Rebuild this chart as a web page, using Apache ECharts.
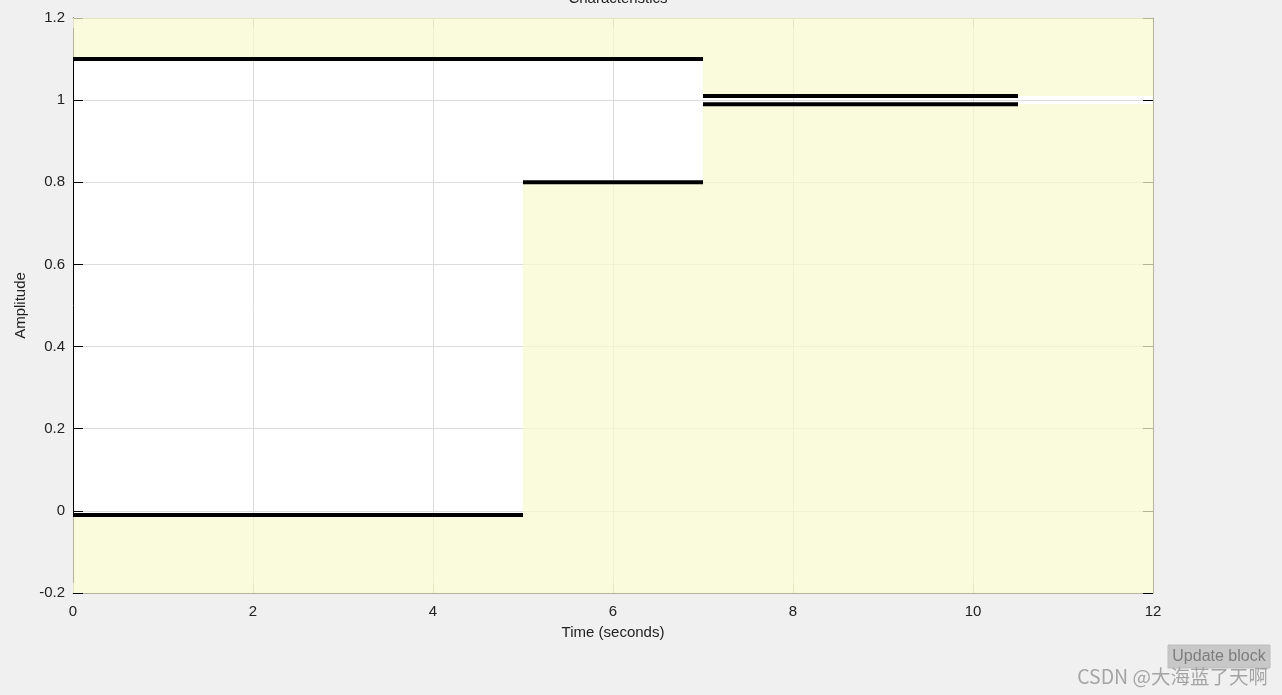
<!DOCTYPE html>
<html>
<head>
<meta charset="utf-8">
<script src="https://cdn.jsdelivr.net/npm/echarts@6/dist/echarts.min.js"></script>
<style>
html,body{margin:0;padding:0;background:#f0f0f0;}
#c{width:1282px;height:695px;}
</style>
</head>
<body>
<div id="c"></div>
<script>
// Step-response characteristic bounds
const segX = [0, 5, 7, 10.5, 12];
const lowerBound = [-0.01, 0.8, 0.99, 0.99];
const upperBound = [1.1, 1.1, 1.01, 1.01];
const boundLineShown = [true, true, true, false];
const xRange = [0, 12];
const yRange = [-0.2, 1.2];

const FONT = '"Liberation Sans", Arial, Helvetica, sans-serif';
const yellow = 'rgba(248,248,206,0.72)';
const dimEdge = '#b3b39a';

const areaData = [];
for (let i = 0; i < segX.length - 1; i++) {
  areaData.push([{xAxis: segX[i], yAxis: upperBound[i]}, {xAxis: segX[i + 1], yAxis: yRange[1]}]);
  areaData.push([{xAxis: segX[i], yAxis: yRange[0]}, {xAxis: segX[i + 1], yAxis: lowerBound[i]}]);
}

const series = [{
  type: 'line', data: [], silent: true, z: 10,
  markArea: {silent: true, z: 10, itemStyle: {color: yellow, borderWidth: 0}, data: areaData}
}];
for (let i = 0; i < segX.length - 1; i++) {
  if (!boundLineShown[i]) continue;
  [lowerBound[i], upperBound[i]].forEach(v => {
    series.push({
      type: 'line', z: 20, silent: true, symbol: 'none', animation: false,
      lineStyle: {color: '#000', width: 4, cap: 'butt'},
      data: [[segX[i], v], [segX[i + 1], v]]
    });
  });
}

const tickStyle = {show: true, inside: true, length: 10, lineStyle: {color: '#000', width: 1}};
const dimTick = {show: true, inside: true, length: 10, lineStyle: {color: dimEdge, width: 1}};
const chart = echarts.init(document.getElementById('c'));
chart.setOption({
  animation: false,
  backgroundColor: '#f0f0f0',
  title: {
    text: 'Characteristics', left: 613, top: -14, textAlign: 'center',
    textStyle: {fontFamily: FONT, fontSize: 15, fontWeight: 'normal', color: '#222'}
  },
  grid: {left: 73, right: 129, top: 18, bottom: 102, show: true, backgroundColor: '#fff', borderWidth: 0},
  xAxis: [{
    type: 'value', min: xRange[0], max: xRange[1], interval: 2, position: 'bottom', z: 0,
    name: 'Time (seconds)', nameLocation: 'middle', nameGap: 32,
    nameTextStyle: {fontFamily: FONT, fontSize: 15, color: '#222'},
    axisLine: {show: true, onZero: false, lineStyle: {color: dimEdge, width: 1}},
    axisTick: dimTick,
    axisLabel: {fontFamily: FONT, fontSize: 15, color: '#222', margin: 11},
    splitLine: {show: true, lineStyle: {color: '#dcdcdc', width: 1}}
  }, {
    type: 'value', min: xRange[0], max: xRange[1], interval: 2, position: 'top', z: 0,
    axisLine: {show: true, onZero: false, lineStyle: {color: dimEdge, width: 1}},
    axisTick: dimTick, axisLabel: {show: false}, splitLine: {show: false}
  }],
  yAxis: [{
    type: 'value', min: yRange[0], max: yRange[1], interval: 0.2, position: 'left', z: 0,
    name: 'Amplitude', nameLocation: 'middle', nameGap: 42, nameRotate: 90,
    nameTextStyle: {fontFamily: FONT, fontSize: 15, color: '#222'},
    axisLine: {show: true, onZero: false, lineStyle: {color: '#000', width: 1}},
    axisTick: tickStyle,
    axisLabel: {fontFamily: FONT, fontSize: 15, color: '#222', margin: 8,
      formatter: v => String(Math.round(v * 10) / 10)},
    splitLine: {show: true, lineStyle: {color: '#dcdcdc', width: 1}}
  }, {
    type: 'value', min: yRange[0], max: yRange[1], interval: 0.2, position: 'right', z: 0,
    axisLine: {show: true, onZero: false, lineStyle: {color: dimEdge, width: 1}},
    axisTick: tickStyle, axisLabel: {show: false}, splitLine: {show: false}
  }],
  series: series,
  graphic: [
    {type: 'rect', shape: {x: 1168, y: 645, width: 102, height: 23},
     style: {fill: '#c8c8c8', stroke: '#bdbdbd', lineWidth: 1}, z: 30},
    {type: 'text', x: 1219, y: 657, z: 31,
     style: {text: 'Update block', fill: '#7d7d7d', font: '16px ' + FONT, align: 'center', verticalAlign: 'middle'}},
    {type: 'text', x: 1268, y: 677, z: 32,
     style: {text: 'CSDN @大海蓝了天啊', fill: 'rgba(150,150,150,0.85)', font: '19.5px "Noto Sans CJK SC", ' + FONT, align: 'right', verticalAlign: 'middle'}}
  ]
});
</script>
</body>
</html>
